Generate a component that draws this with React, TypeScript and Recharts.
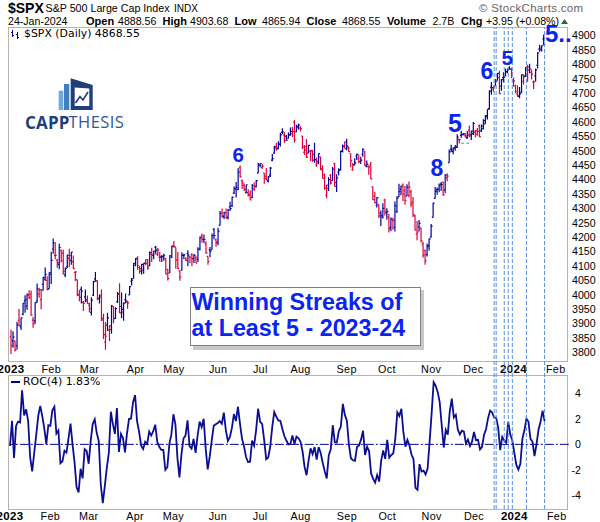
import React from "react";
import { ComposedChart, Bar, Line, XAxis, YAxis, ReferenceLine } from "recharts";

const prevClose = 3839.5;
const closes = [
  3824.14,3852.97,3808.10,3895.08,3892.09,3919.25,3969.61,3983.17,3999.09,3990.97,3928.86,3898.85,3972.61,4019.81,4016.95,4016.22,4060.43,4070.56,4017.77,4076.60,
  4119.21,4179.76,4136.48,4111.08,4164.00,4117.86,4081.50,4090.46,4137.29,4136.13,4147.60,4090.41,4079.09,3997.34,3991.05,4012.32,3970.04,3982.24,3970.15,
  3951.39,3981.35,4045.64,4048.42,3986.37,3992.01,3918.32,3861.59,3855.76,3919.29,3891.93,3960.28,3916.64,3951.57,4002.87,3936.97,3948.72,3970.99,3977.53,3971.27,4027.81,4050.83,4109.31,
  4124.51,4100.60,4090.38,4105.02,4109.11,4108.94,4091.95,4146.22,4137.64,4151.32,4154.87,4154.52,4129.79,4133.52,4137.04,4071.63,4055.99,4135.35,4169.48,
  4167.87,4119.58,4090.75,4061.22,4136.25,4138.12,4119.17,4137.64,4130.62,4124.08,4136.28,4109.90,4158.77,4198.05,4191.98,4192.63,4145.58,4115.24,4151.28,4205.45,4205.52,4179.83,
  4221.02,4282.37,4273.79,4283.85,4267.52,4293.93,4298.86,4338.93,4369.01,4372.59,4425.84,4409.59,4388.71,4365.69,4381.89,4348.33,4328.82,4378.41,4376.86,4396.44,4450.38,
  4455.59,4446.82,4411.59,4398.95,4409.53,4439.26,4472.16,4510.04,4505.42,4522.79,4554.98,4565.72,4534.87,4536.34,4554.64,4567.46,4566.75,4537.41,4582.23,4588.96,
  4576.73,4513.39,4501.89,4478.03,4518.44,4499.38,4467.71,4468.83,4464.05,4489.72,4437.86,4404.33,4370.36,4369.71,4399.77,4387.55,4436.01,4376.31,4405.71,4433.31,4497.63,4514.87,4507.66,
  4515.77,4496.83,4465.48,4451.14,4457.49,4487.46,4461.90,4467.44,4505.10,4450.32,4453.53,4443.95,4402.20,4330.00,4320.06,4337.44,4273.53,4274.51,4299.70,4288.05,
  4288.39,4229.45,4263.75,4258.19,4308.50,4335.66,4358.24,4376.95,4349.61,4327.78,4373.63,4373.20,4314.60,4278.00,4224.16,4217.04,4247.68,4186.77,4137.23,4117.37,4166.82,4193.80,
  4237.86,4317.78,4358.34,4365.98,4378.38,4382.78,4347.35,4415.24,4411.55,4495.70,4502.88,4508.24,4514.02,4547.38,4538.19,4556.62,4559.34,4550.43,4554.89,4550.58,4567.80,
  4594.63,4569.78,4567.18,4549.34,4585.59,4604.37,4622.44,4643.70,4707.09,4719.55,4719.19,4740.56,4768.37,4698.35,4746.75,4754.63,4774.75,4781.58,4783.35,4769.83,
  4742.83,4704.81,4688.68,4697.24,4763.54,4756.50,4783.45,4780.24,4783.83,4765.98,4739.21,4780.94,4839.81,4850.43,4864.60,4868.55,
];
const opens = [
  3853.29,3840.36,3839.74,3823.37,3910.82,3888.57,3932.35,3977.57,3960.60,3999.28,4002.25,3911.84,3909.04,3978.14,4001.74,3982.71,4036.08,4053.72,4049.27,4020.85,
  4070.07,4158.68,4136.69,4119.57,4105.35,4153.47,4144.25,4068.92,4096.62,4126.70,4119.50,4114.75,4077.39,4052.35,4001.83,4018.60,3973.24,3992.36,3977.19,
  3963.34,3938.68,3998.02,4055.15,4048.26,3987.55,3998.66,3912.77,3835.12,3894.01,3876.74,3878.93,3958.69,3917.47,3975.89,4002.04,3959.21,3939.21,3982.93,3974.13,3999.53,4046.74,4056.18,
  4102.20,4128.03,4094.50,4081.15,4085.20,4110.91,4121.72,4100.04,4140.11,4137.17,4164.26,4139.33,4130.48,4132.14,4132.07,4126.43,4087.78,4075.29,4129.63,
  4166.79,4164.10,4122.25,4082.61,4084.73,4136.98,4124.25,4143.74,4132.24,4138.54,4126.65,4127.95,4122.85,4157.83,4204.15,4190.78,4176.80,4132.96,4155.71,4156.16,4226.71,4190.74,
  4183.03,4241.01,4282.99,4271.34,4285.47,4268.69,4304.88,4308.32,4352.61,4366.29,4365.33,4440.95,4396.11,4380.01,4355.40,4354.17,4344.84,4337.36,4367.48,4374.94,4422.44,
  4450.48,4442.04,4422.62,4404.54,4394.23,4415.55,4467.69,4491.50,4514.61,4508.86,4521.78,4563.87,4554.38,4550.16,4543.39,4555.19,4558.96,4598.26,4565.75,4584.82,
  4578.83,4550.93,4494.27,4513.96,4491.58,4498.03,4501.57,4487.16,4450.69,4458.13,4478.87,4433.79,4416.32,4344.88,4380.28,4415.33,4396.44,4455.16,4389.38,4426.03,4432.75,4500.34,4517.01,
  4530.60,4510.06,4490.35,4434.55,4451.30,4480.98,4473.27,4462.65,4487.78,4497.98,4445.41,4445.41,4452.81,4374.36,4341.74,4310.62,4312.88,4282.63,4269.65,4328.18,
  4284.52,4269.75,4233.83,4259.31,4234.17,4289.02,4339.75,4366.59,4380.94,4360.49,4342.37,4345.23,4357.35,4321.36,4273.85,4210.40,4235.79,4232.42,4175.99,4152.93,4139.39,4171.33,
  4201.27,4268.26,4334.23,4364.27,4366.21,4384.37,4391.41,4364.15,4406.66,4458.97,4505.30,4497.08,4509.55,4511.70,4538.77,4553.04,4555.84,4554.86,4545.55,4571.84,4554.87,
  4559.43,4564.37,4557.25,4586.23,4568.84,4576.20,4593.39,4618.30,4646.20,4721.04,4714.23,4725.58,4743.72,4753.92,4724.29,4753.92,4758.86,4773.45,4786.44,4782.88,
  4745.20,4725.07,4697.42,4690.57,4703.70,4741.93,4759.94,4792.13,4791.18,4772.35,4739.13,4760.10,4796.28,4853.42,4856.80,4888.56,
];
const highs = [
  3878.46,3873.16,3839.74,3906.19,3950.57,3919.83,3970.07,3997.76,4003.95,4015.39,4014.16,3922.94,3972.96,4039.31,4023.92,4019.55,4061.57,4094.21,4063.85,4077.16,
  4148.95,4195.44,4182.36,4124.63,4176.54,4156.85,4156.23,4094.36,4138.90,4159.77,4148.11,4136.54,4081.51,4052.35,4017.37,4028.30,3978.25,4018.05,3997.50,
  3971.73,3990.84,4048.29,4078.49,4050.00,4000.41,4017.81,3934.05,3905.05,3937.29,3894.26,3964.46,3958.91,3956.62,4009.08,4039.49,4007.66,3972.74,4003.83,3979.20,4030.59,4057.85,4110.75,
  4127.66,4133.13,4099.69,4107.32,4109.50,4124.42,4124.36,4150.26,4163.19,4151.72,4169.48,4162.57,4148.57,4138.02,4142.41,4126.43,4089.67,4138.24,4170.06,
  4186.92,4164.10,4148.30,4082.61,4147.02,4142.30,4130.35,4154.28,4132.80,4143.74,4141.25,4135.54,4164.67,4202.20,4212.91,4209.22,4185.68,4132.96,4165.74,4212.87,4231.10,4195.44,
  4232.43,4290.67,4299.28,4288.33,4299.19,4298.01,4322.62,4340.13,4375.37,4391.82,4439.20,4448.47,4400.15,4386.22,4382.25,4366.55,4362.06,4384.42,4390.35,4398.39,4458.48,
  4456.46,4454.06,4422.62,4440.39,4412.60,4443.64,4488.34,4517.38,4527.76,4532.85,4562.30,4578.43,4564.74,4555.00,4563.41,4580.62,4582.47,4607.07,4590.16,4594.22,
  4584.62,4550.93,4519.49,4540.34,4519.84,4503.31,4502.44,4527.37,4476.23,4490.33,4478.87,4449.95,4421.17,4381.82,4407.55,4418.59,4443.18,4458.30,4418.46,4439.56,4500.14,4521.65,4532.26,
  4541.25,4514.29,4490.35,4457.81,4473.53,4490.77,4487.11,4479.39,4508.86,4497.98,4466.36,4449.85,4461.03,4375.70,4357.40,4338.51,4313.01,4292.07,4317.27,4333.15,
  4300.58,4281.15,4268.50,4267.13,4324.10,4341.73,4385.46,4378.64,4385.85,4377.10,4383.33,4393.57,4364.20,4339.54,4276.56,4255.84,4259.38,4232.42,4183.60,4156.70,4177.47,4195.55,
  4245.64,4319.72,4373.62,4372.21,4386.26,4391.20,4393.40,4418.03,4421.76,4504.12,4521.17,4511.99,4520.12,4557.11,4542.14,4568.43,4560.31,4560.52,4568.14,4587.64,4569.89,
  4599.39,4572.37,4578.56,4590.74,4590.92,4609.23,4623.71,4643.93,4709.69,4738.57,4725.53,4749.52,4768.69,4778.01,4748.71,4772.94,4784.72,4785.39,4793.30,4788.43,
  4754.33,4729.29,4726.78,4721.49,4764.54,4765.47,4790.80,4798.50,4802.40,4782.34,4744.23,4785.79,4842.07,4868.41,4866.48,4903.68,
];
const lows = [
  3794.33,3815.77,3802.42,3809.56,3890.42,3877.29,3928.54,3937.56,3947.67,3984.57,3926.59,3885.54,3897.86,3971.64,3989.79,3949.06,4013.29,4048.70,4015.55,4020.44,
  4037.20,4141.88,4123.36,4093.38,4088.39,4111.67,4069.67,4060.79,4092.67,4095.01,4103.98,4089.49,4047.95,3995.19,3976.90,3969.19,3943.08,3973.55,3968.98,
  3939.05,3928.16,3995.17,4044.61,3980.31,3969.76,3908.70,3846.32,3808.86,3873.63,3838.24,3864.11,3901.27,3916.89,3971.19,3936.17,3919.05,3909.16,3970.49,3951.53,3999.53,4032.10,4056.18,
  4098.79,4086.87,4072.56,4069.84,4072.55,4102.61,4086.94,4099.40,4113.20,4123.18,4140.36,4134.49,4114.57,4113.86,4117.77,4071.38,4049.35,4075.29,4127.18,
  4164.12,4089.72,4088.86,4048.28,4084.73,4123.81,4116.65,4098.92,4109.29,4099.12,4110.27,4109.86,4113.62,4153.50,4180.20,4179.68,4142.54,4103.98,4129.73,4156.16,4192.18,4166.15,
  4171.64,4241.01,4266.82,4263.09,4263.96,4261.07,4291.70,4304.37,4349.31,4337.85,4362.60,4407.44,4367.19,4360.14,4351.82,4341.34,4328.08,4335.00,4360.22,4371.97,4422.44,
  4442.29,4436.61,4385.05,4397.40,4389.92,4408.46,4463.23,4489.36,4499.56,4504.90,4514.59,4557.48,4527.56,4535.79,4541.29,4552.42,4547.58,4528.56,4564.01,4573.14,
  4567.53,4505.75,4485.54,4474.55,4491.15,4464.39,4461.33,4457.92,4443.98,4453.44,4432.19,4403.55,4364.83,4335.31,4360.30,4382.77,4396.44,4375.55,4356.29,4414.98,4431.68,4493.59,4507.39,
  4501.35,4496.01,4442.38,4430.46,4448.38,4467.89,4456.83,4453.52,4478.84,4447.21,4442.11,4416.61,4401.38,4329.17,4316.49,4302.70,4265.98,4238.63,4264.38,4274.86,
  4260.21,4216.45,4220.48,4225.91,4219.55,4283.79,4339.64,4345.34,4325.43,4311.97,4342.37,4337.54,4303.84,4269.69,4223.03,4189.22,4219.43,4181.42,4127.90,4103.78,4132.94,4153.12,
  4197.74,4268.26,4334.23,4347.53,4355.41,4359.76,4343.94,4353.34,4393.82,4458.97,4495.31,4487.83,4499.66,4510.36,4525.51,4545.05,4552.80,4546.32,4540.51,4547.15,4537.24,
  4554.71,4546.72,4551.68,4546.50,4565.22,4574.06,4593.39,4608.09,4643.23,4694.34,4704.69,4725.58,4743.72,4697.82,4708.35,4736.77,4758.45,4768.90,4780.98,4751.99,
  4722.67,4699.71,4687.53,4682.11,4699.82,4730.35,4756.20,4739.58,4768.98,4747.12,4714.82,4740.57,4785.87,4844.05,4844.37,4865.94,
];
const rocs = [
  -0.13,1.84,-1.07,1.45,1.78,1.72,4.24,2.26,2.75,1.83,-1.03,-2.12,-0.66,0.72,2.24,3.01,2.21,1.26,0.02,1.50,
  1.45,2.68,2.95,0.85,1.09,-1.48,-1.33,-0.50,-0.64,0.44,1.62,0.00,-1.41,-3.36,-3.77,-1.91,-2.67,-0.38,-0.52,
  -1.52,0.28,1.59,1.97,0.89,0.27,-3.15,-4.61,-3.28,-1.82,-0.67,2.56,1.58,0.82,2.85,-0.59,0.82,0.49,-0.63,0.87,2.00,2.01,3.31,
  3.86,1.81,0.98,-0.10,-0.37,0.20,0.04,1.00,0.69,1.03,1.54,0.20,-0.19,-0.43,-0.43,-2.00,-1.79,0.04,0.78,
  2.36,1.57,-1.08,-2.60,-0.76,0.45,0.69,1.88,-0.14,-0.34,0.42,-0.67,0.68,1.79,1.35,2.01,-0.32,-1.97,-0.97,0.31,1.45,1.57,
  1.68,1.83,1.62,2.49,1.10,0.27,0.59,1.29,2.38,1.83,2.95,1.63,0.45,-0.16,-0.99,-1.39,-1.36,0.29,-0.11,1.11,2.81,
  1.76,1.60,0.34,-1.16,-1.03,-0.17,1.37,2.53,2.17,1.88,1.85,1.23,0.65,0.30,-0.01,0.04,0.70,0.02,0.61,0.47,
  0.22,-0.53,-1.75,-2.42,-1.27,-0.31,-0.76,-0.21,-1.20,-0.21,-0.67,-1.44,-2.10,-2.67,-0.86,-0.38,1.50,0.15,0.14,1.04,1.39,3.17,2.31,
  1.86,-0.02,-1.09,-1.25,-1.29,-0.21,-0.08,0.37,1.07,-0.83,-0.19,-0.53,-2.28,-2.70,-3.00,-2.40,-2.92,-1.28,-0.47,-1.14,
  0.35,-1.05,-0.84,-0.70,0.47,2.51,2.22,2.79,0.95,-0.18,0.35,-0.09,-0.80,-1.15,-3.42,-3.57,-1.55,-2.13,-2.06,-2.36,-1.90,0.17,
  2.43,4.87,4.60,4.11,3.32,1.51,-0.25,1.13,0.76,2.58,3.58,2.11,2.32,1.15,0.78,1.07,1.00,0.07,0.37,-0.13,0.19,
  0.97,0.33,0.36,-0.40,-0.20,0.76,1.21,2.07,2.65,2.50,2.09,2.09,1.30,-0.45,0.58,0.30,0.13,1.77,0.77,0.32,
  -0.67,-1.61,-1.98,-1.52,0.44,1.10,2.02,1.77,0.43,0.20,-0.92,0.01,1.17,1.77,2.65,1.83,
];
const slotCount = 278;
const monthTicks = [0, 20, 39, 62, 81, 103, 124, 144, 167, 187, 209, 230, 250, 271];
const monthLabels = ["2023", "Feb", "Mar", "Apr", "May", "Jun", "Jul", "Aug", "Sep", "Oct", "Nov", "Dec", "2024", "Feb"];
const priceTicks = [3800,3850,3900,3950,4000,4050,4100,4150,4200,4250,4300,4350,4400,4450,4500,4550,4600,4650,4700,4750,4800,4850,4900];
const rocTicks = [-4, -2, 0, 2, 4];
const streakEnds = [240, 241, 245, 247, 249, 256, 265];

const table = Array.from({ length: slotCount }, (_, i) => ({
  i,
  open: opens[i] ?? null,
  high: highs[i] ?? null,
  low: lows[i] ?? null,
  close: closes[i] ?? null,
  roc: rocs[i] ?? null,
  up: i < closes.length ? closes[i] >= (i === 0 ? prevClose : closes[i - 1]) : false,
}));

const NAVY = "#00009a";
const RED = "#dc003c";
const BLUE = "#0b24ee";
const BORDER = "#b4b4b4";
const DASH = "#5a8fd8";
const SANS = "'Liberation Sans', Arial, sans-serif";
const WIDE = "'DejaVu Sans', sans-serif";
const M_LEFT = 10;
const M_RIGHT = 0;
const AXIS_W = 31.2;

function OhlcShape(props: any) {
  const { x, y, width, height, payload } = props;
  if (!payload || payload.high == null) return null;
  const cx = x + width / 2;
  const span = payload.high - payload.low || 1;
  const at = (v: number) => y + ((payload.high - v) / span) * height;
  const d = `M${cx},${y}V${y + height}M${cx - 1.3},${at(payload.open)}H${cx}M${cx},${at(payload.close)}H${cx + 1.5}`;
  return <path d={d} stroke={payload.up ? NAVY : RED} strokeWidth={1.2} fill="none" />;
}

function MonthTick(props: any) {
  const { x, y, payload } = props;
  const label = monthLabels[monthTicks.indexOf(payload.value)];
  const isYear = label.length === 4;
  return (
    <text x={x} y={y + 5} textAnchor="middle" fontFamily={SANS} fontSize={isYear ? 11.5 : 10.8} fontWeight={isYear ? 700 : 400} fill="#000" letterSpacing={0.3}>
      {label}
    </text>
  );
}

function PriceTick(props: any) {
  const { y, payload } = props;
  return <text x={572} y={y + 3.8} fontFamily={SANS} fontSize={10.6} fill="#000">{payload.value}</text>;
}

function RocTick(props: any) {
  const { y, payload } = props;
  return <text x={581} y={y + 3.8} textAnchor="end" fontFamily={SANS} fontSize={10.6} fill="#000">{payload.value}</text>;
}

function T(p: { x: number; y: number; s?: number; b?: boolean; c?: string; f?: string; ls?: number; children: React.ReactNode }) {
  return (
    <span style={{ position: "absolute", left: p.x, top: p.y, fontSize: p.s ?? 10.6, fontWeight: p.b ? 700 : 400, color: p.c ?? "#000", fontFamily: p.f ?? SANS, letterSpacing: p.ls ?? 0, lineHeight: 1, whiteSpace: "nowrap" }}>
      {p.children}
    </span>
  );
}

function Panel({ top, bottom }: { top: number; bottom: number }) {
  return <div style={{ position: "absolute", left: 8, top, width: 560, height: bottom - top, boxSizing: "border-box", border: `1px solid ${BORDER}` }} />;
}

function Logo() {
  return (
    <svg style={{ position: "absolute", left: 50, top: 70 }} width={50} height={44} viewBox="50 70 50 44">
      <rect x={58.7} y={90.7} width={4.6} height={19.3} fill="#6fa8dc" />
      <rect x={64} y={84} width={5.3} height={26} fill="#3f7fbf" />
      <path d="M70.7,78.3 L92.7,85 V110 H70.7 Z M74.7,87.5 V106 H89.3 V88.5 Z" fill="#1f3f7c" fillRule="evenodd" />
      <path d="M75.5,103 L80,96.5 L83,100 L88,92" stroke="#1f3f7c" strokeWidth={1.6} fill="none" />
    </svg>
  );
}

export default function App() {
  return (
    <div style={{ position: "absolute", left: 0, top: 0, width: 600, height: 522, background: "#fff", overflow: "hidden" }}>
      <T x={8} y={1} s={14} b>$SPX</T>
      <T x={45.5} y={2.5} s={10.7}>S&amp;P 500 Large Cap Index</T>
      <T x={174} y={3.5} s={10}>INDX</T>
      <T x={479} y={3} s={11.5} c="#666" ls={0.3}>© StockCharts.com</T>
      <T x={8} y={16}>24-Jan-2024</T>
      <T x={86} y={16} s={11} b>Open</T><T x={118} y={16}>4888.56</T>
      <T x={162.5} y={16} s={11} b>High</T><T x={190} y={16}>4903.68</T>
      <T x={234.5} y={16} s={11} b>Low</T><T x={262} y={16}>4865.94</T>
      <T x={306.5} y={16} s={11} b>Close</T><T x={342} y={16}>4868.55</T>
      <T x={387} y={16} s={11} b>Volume</T><T x={432.5} y={16}>2.7B</T>
      <T x={461} y={16} s={11} b>Chg</T><T x={486} y={16}>+3.95 (+0.08%)</T>
      <svg style={{ position: "absolute", left: 560, top: 18 }} width={9} height={7}><path d="M1,6 L4.5,1 L8,6 Z" fill="#2e6b2e" /></svg>

      <Panel top={27} bottom={362} />
      <Panel top={375} bottom={510} />
      <Logo />
      <T x={25} y={114} s={17} b c="#1f3f7c" f="'Open Sans', sans-serif" ls={0.2}>CAPP</T>
      <T x={68.6} y={114} s={16.5} c="#34578f" f="'Open Sans', sans-serif" ls={0.4}>THESIS</T>

      <div style={{ position: "absolute", left: 0, top: 0 }}>
        <ComposedChart width={600} height={522} data={table} margin={{ top: 27.5, right: M_RIGHT, bottom: 145.5, left: M_LEFT }} barCategoryGap={0}>
          <XAxis dataKey="i" type="category" ticks={monthTicks} interval={0} height={15} axisLine={false} tickLine={false} tick={MonthTick} tickMargin={0} />
          <YAxis orientation="right" width={AXIS_W} domain={[3768, 4928]} allowDataOverflow ticks={priceTicks} interval={0} axisLine={false} tickLine={false} tick={PriceTick} />
          <Bar dataKey={(d: any) => (d.high == null ? null : [d.low, d.high])} shape={OhlcShape} isAnimationActive={false} />
          <ReferenceLine segment={[{ x: 224, y: 4526 }, { x: 229, y: 4526 }]} stroke={DASH} strokeWidth={1} strokeDasharray="3 2" />
        </ComposedChart>
      </div>
      <div style={{ position: "absolute", left: 0, top: 0 }}>
        <ComposedChart width={600} height={522} data={table} margin={{ top: 375.5, right: M_RIGHT, bottom: 0, left: M_LEFT }}>
          <XAxis dataKey="i" type="category" ticks={monthTicks} interval={0} height={13} axisLine={false} tickLine={false} tick={MonthTick} tickMargin={0} />
          <YAxis orientation="right" width={AXIS_W} domain={[-5.07, 5.4]} allowDataOverflow ticks={rocTicks} interval={0} axisLine={false} tickLine={false} tick={RocTick} />
          <ReferenceLine y={0} stroke="#00008f" strokeWidth={1} strokeDasharray="9 2 2 2" />
          <Line dataKey="roc" type="linear" stroke="#0a0e90" strokeWidth={1.8} dot={false} activeDot={false} isAnimationActive={false} />
        </ComposedChart>
      </div>
      <div style={{ position: "absolute", left: 0, top: 0 }}>
        <ComposedChart width={600} height={522} data={table} margin={{ top: 27.5, right: M_RIGHT, bottom: 13, left: M_LEFT }}>
          <XAxis dataKey="i" type="category" hide />
          <YAxis orientation="right" width={AXIS_W} hide={false} axisLine={false} tickLine={false} tick={false} domain={[-6, 6]} allowDataOverflow />
          <Line dataKey="roc" stroke="none" strokeWidth={0} dot={false} activeDot={false} legendType="none" isAnimationActive={false} />
          {streakEnds.map((s) => (
            <ReferenceLine key={s} x={s} stroke={DASH} strokeWidth={1} strokeDasharray="4 2" />
          ))}
        </ComposedChart>
      </div>

      <svg style={{ position: "absolute", left: 10, top: 29 }} width={12} height={11}>
        <path d="M2.5,1V8M1,3H2.5M2.5,6H4M7.5,3V10M6,5H7.5M7.5,8H9" stroke="#00008f" strokeWidth={1} fill="none" shapeRendering="crispEdges" />
      </svg>
      <T x={24} y={28.5} s={10.9} f={WIDE}>$SPX (Daily) 4868.55</T>
      <div style={{ position: "absolute", left: 11, top: 381, width: 9, height: 2, background: "#00008f" }} />
      <T x={23} y={376.5} s={10.9} f={WIDE}>ROC(4) 1.83%</T>

      <T x={232.5} y={145} s={20.5} b c={BLUE}>6</T>
      <T x={430.5} y={157} s={23} b c={BLUE}>8</T>
      <T x={448} y={111} s={25} b c={BLUE}>5</T>
      <T x={480.5} y={60} s={23} b c={BLUE}>6</T>
      <T x={501.5} y={47} s={21} b c={BLUE}>5</T>
      <T x={545} y={22} s={24} b c={BLUE}>5..</T>

      <div style={{ position: "absolute", left: 193, top: 290, width: 231, height: 59.5, background: "#c8c8c8" }} />
      <div style={{ position: "absolute", left: 189.5, top: 286.5, width: 231, height: 59.5, boxSizing: "border-box", background: "#fff", border: "1px solid #808080" }} />
      <T x={191.5} y={291} s={23.3} b c={BLUE}>Winning Streaks of</T>
      <T x={191.5} y={317.3} s={23.3} b c={BLUE}>at Least 5 - 2023-24</T>
    </div>
  );
}
